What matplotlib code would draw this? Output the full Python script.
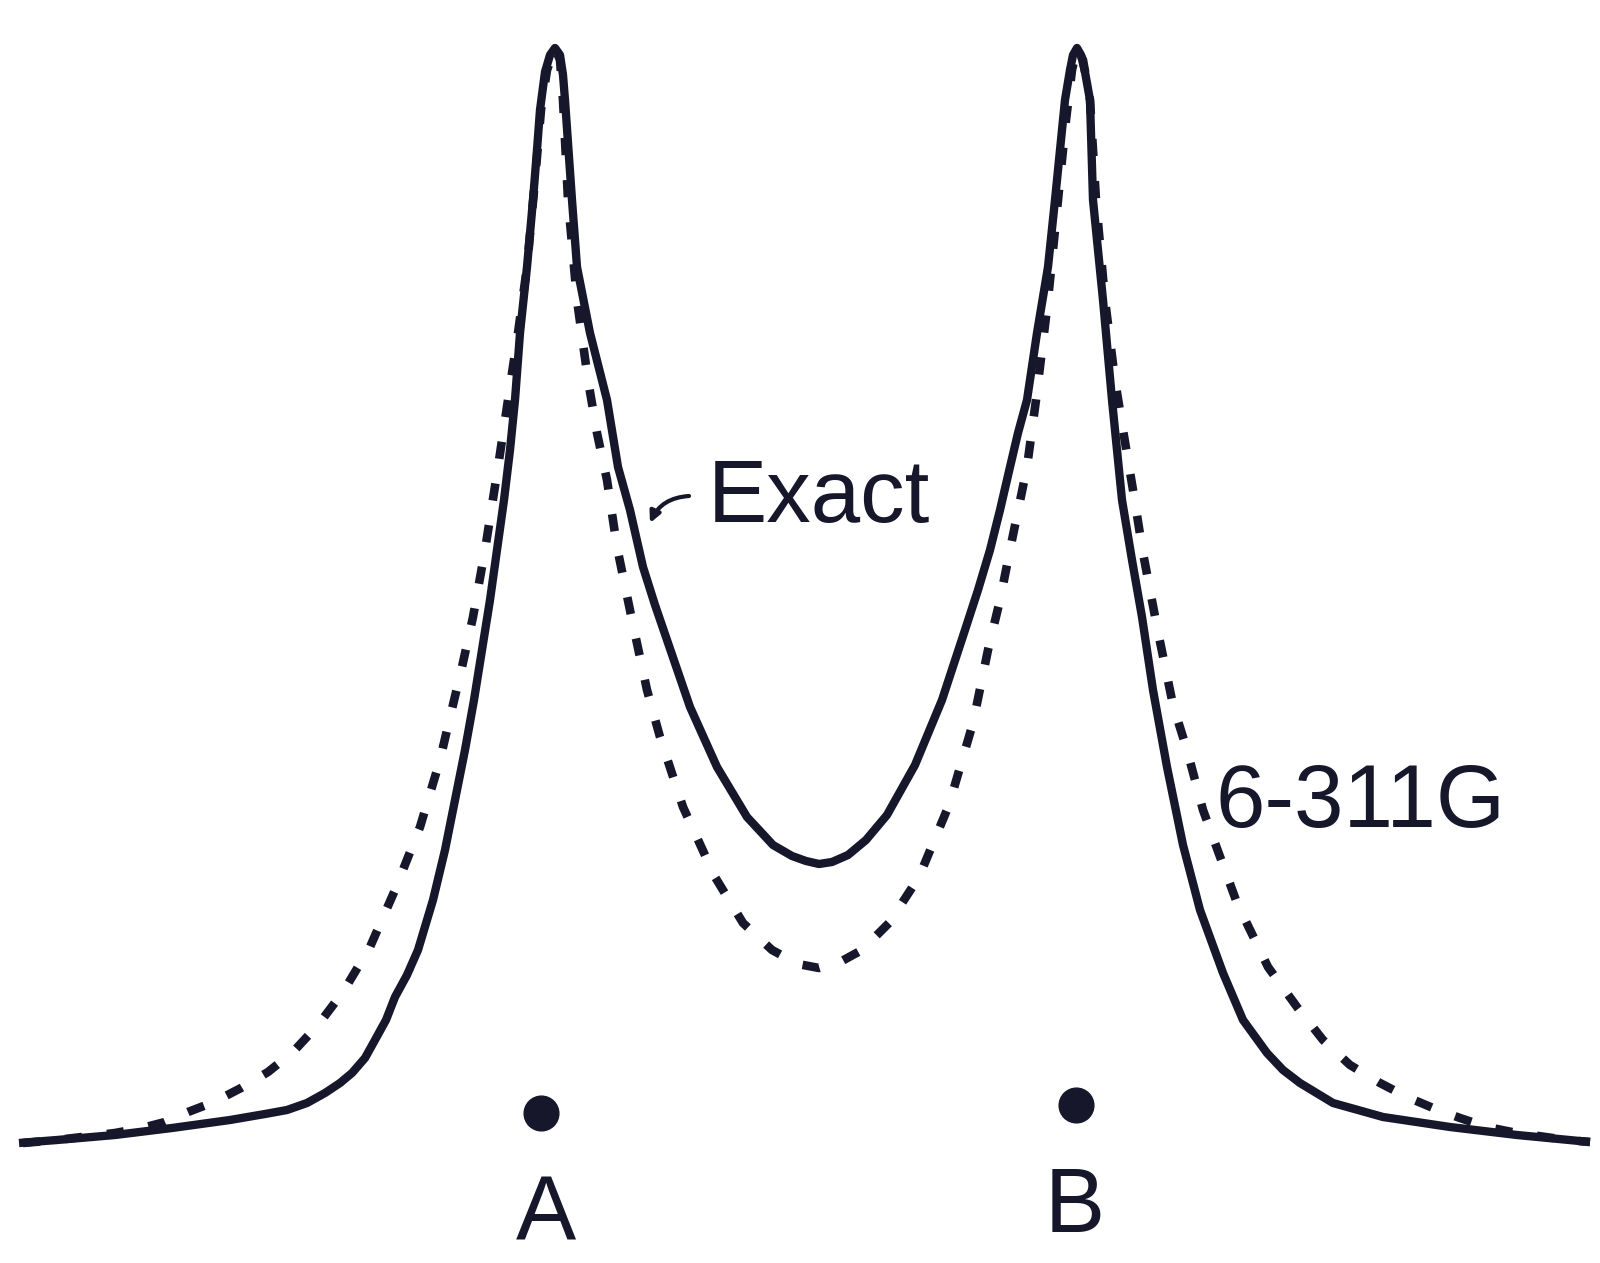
import matplotlib
matplotlib.use('Agg')
import matplotlib.pyplot as plt

plt.rcParams['font.family'] = ['Liberation Sans', 'DejaVu Sans']

ink = '#17172b'

# picture coordinates (pixels of the 1600 x 1263 figure)
# "Exact" density, solid line
exact_x = [19, 57, 115, 172, 230, 265, 287, 307, 325, 340, 352, 365, 375, 386, 395, 407,
           418, 433, 445, 455, 465, 474, 482, 490, 497, 504, 510, 515, 520, 527, 533,
           537, 540, 545, 550, 555,
           560, 563, 565, 572, 577, 590, 607, 618, 630, 643, 655, 667, 690, 717, 747,
           773, 792, 806, 819, 832, 848, 866, 887, 915, 942, 965, 978, 990, 1000, 1010,
           1018, 1027, 1037, 1048, 1055, 1060, 1065, 1070, 1073, 1077,
           1081, 1085, 1090, 1093, 1098, 1103, 1112, 1122, 1132, 1142, 1153, 1167, 1183,
           1200, 1223, 1243, 1267, 1283, 1300, 1333, 1383, 1450, 1517, 1590]
exact_y = [1143, 1140, 1135, 1128, 1120, 1114, 1110, 1103, 1093, 1083, 1073, 1058, 1040, 1020, 997, 975,
           950, 900, 850, 800, 750, 700, 650, 600, 550, 500, 450, 400, 333, 267, 200,
           150, 110, 72, 55, 48,
           55, 75, 100, 200, 267, 333, 400, 467, 510, 567, 605, 640, 707, 767, 817,
           845, 856, 861, 864, 862, 855, 840, 815, 765, 700, 630, 590, 550, 510, 467,
           433, 400, 333, 267, 200, 150, 100, 70, 55, 48,
           55, 72, 100, 200, 250, 300, 400, 500, 560, 617, 690, 767, 845,
           910, 973, 1020, 1053, 1070, 1083, 1103, 1117, 1127, 1135, 1142]

# 6-311G density, dashed line
basis_x = [23, 57, 115, 142, 165, 188, 214, 241, 268, 293, 318, 343, 370, 395, 420, 440,
           447, 462, 473, 485, 498, 508, 518, 527, 535, 541, 547, 555,
           560, 563, 568, 577, 588, 597, 607, 617, 632, 647, 660, 683, 715, 743, 772,
           798, 819, 840, 862, 889, 919, 949, 973, 988, 1000, 1012, 1027, 1036, 1048,
           1058, 1066, 1072, 1077,
           1083, 1090, 1096, 1105, 1115, 1123, 1133, 1143, 1157, 1173, 1187, 1203, 1215,
           1237, 1268, 1297, 1323, 1350, 1380, 1407, 1433, 1460, 1487, 1517, 1567, 1590]
basis_y = [1143, 1140, 1133, 1128, 1122, 1112, 1102, 1088, 1072, 1052, 1025, 992, 947, 890, 827, 760,
           730, 667, 617, 550, 467, 400, 333, 267, 180, 110, 70, 48,
           60, 100, 200, 300, 380, 433, 480, 547, 620, 690, 737, 807, 877, 923, 950,
           964, 968, 962, 950, 923, 877, 805, 723, 650, 600, 540, 467, 400, 300,
           200, 120, 70, 48,
           60, 100, 200, 300, 380, 430, 490, 553, 627, 705, 750, 810, 843,
           903, 967, 1007, 1040, 1065, 1083, 1097, 1108, 1118, 1127, 1133, 1140, 1142]

# nuclei
nuc_x = [541, 1076]
nuc_y = [1113, 1105]
nuc_labels = ['A', 'B']
label_x = [546, 1075]
label_y = [1240, 1232]

fig = plt.figure(figsize=(16, 12.63), dpi=100)
ax = fig.add_axes([0, 0, 1, 1])
ax.set_xlim(0, 1600)
ax.set_ylim(1263, 0)
ax.axis('off')

ax.plot(basis_x, basis_y, color=ink, lw=6.2, linestyle=(0, (2.0, 2.9)),
        dash_capstyle='butt', dash_joinstyle='round')
ax.plot(exact_x, exact_y, color=ink, lw=6.0, solid_joinstyle='round',
        solid_capstyle='butt')

ax.plot(nuc_x, nuc_y, 'o', color=ink, markersize=25)
for lx, ly, t in zip(label_x, label_y, nuc_labels):
    ax.text(lx, ly, t, fontsize=65, color=ink, ha='center', va='baseline')

ax.text(708, 522, 'Exact', fontsize=64, color=ink, ha='left', va='baseline')
ax.text(1216, 827, '6-311G', fontsize=64, color=ink, ha='left', va='baseline')

ax.annotate('', xy=(650, 523), xytext=(689, 496),
            arrowprops=dict(arrowstyle='-|>', connectionstyle='arc3,rad=0.3',
                            lw=3, color=ink, mutation_scale=16, shrinkA=0, shrinkB=0))

fig.savefig('out.png', dpi=100)
